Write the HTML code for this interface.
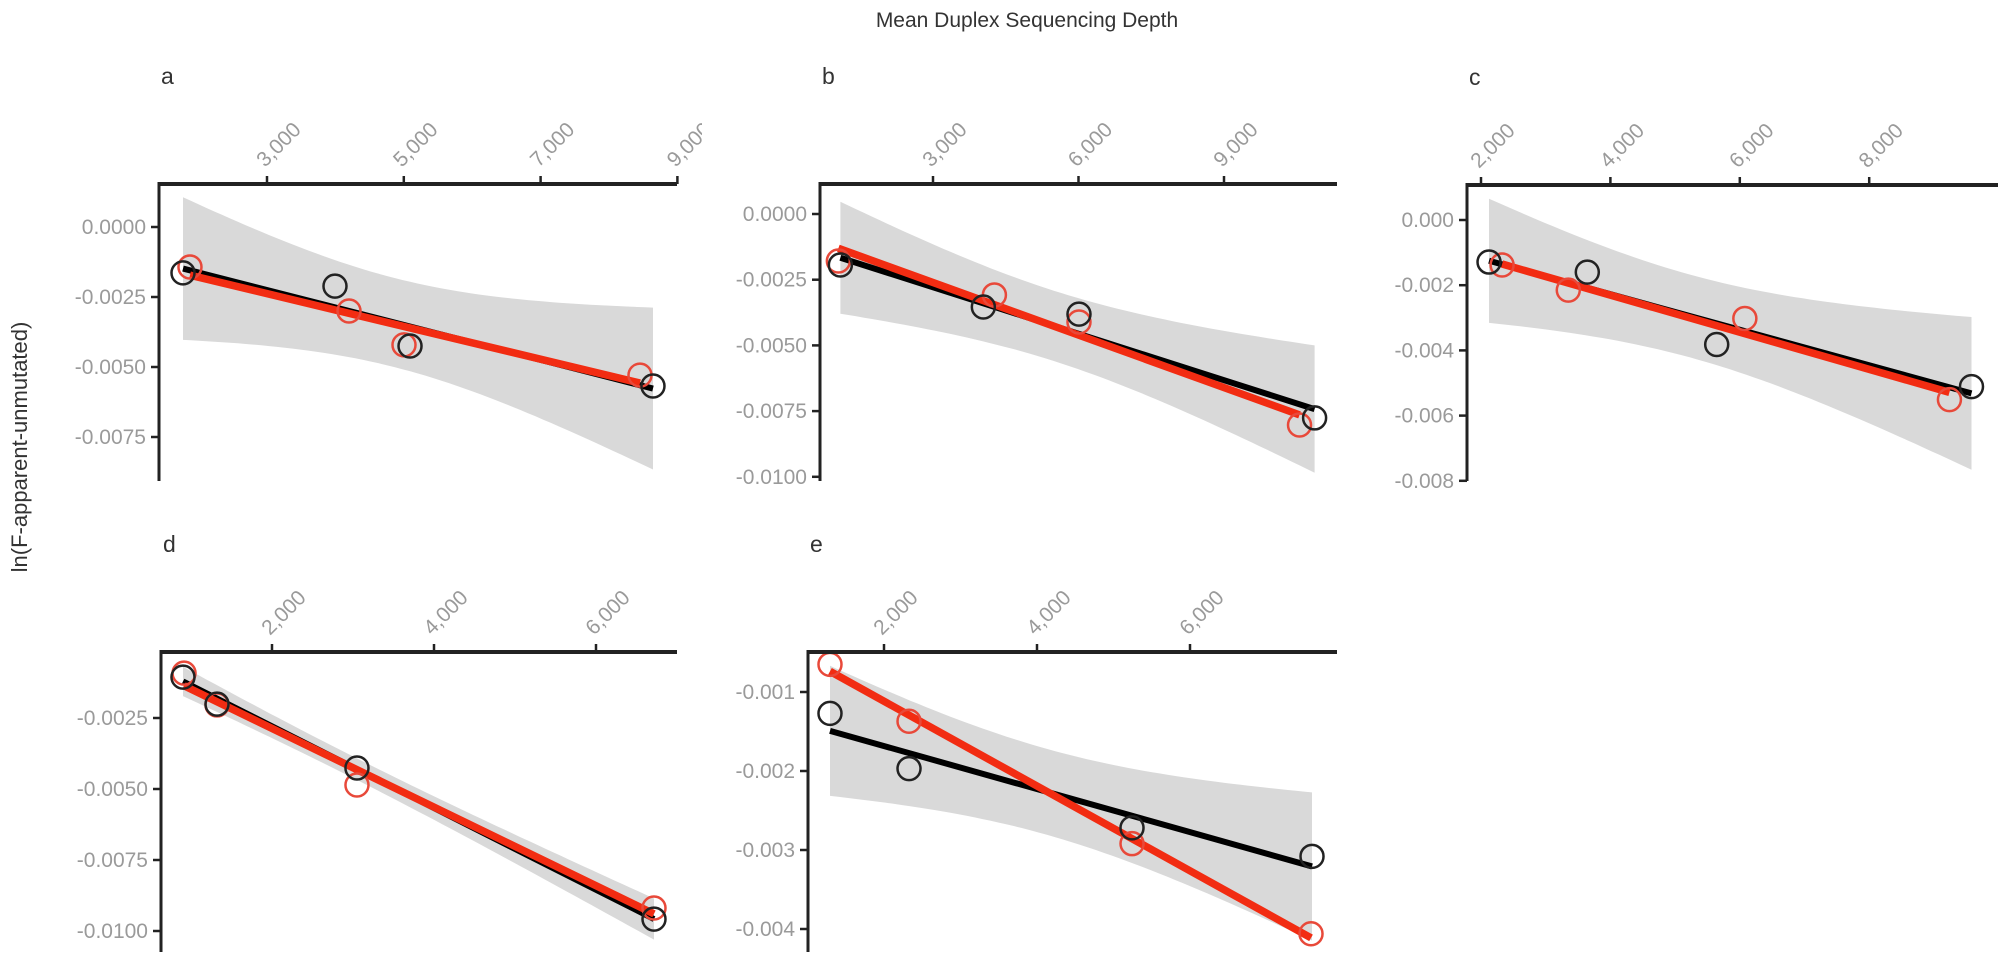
<!DOCTYPE html>
<html><head><meta charset="utf-8">
<style>
html,body{margin:0;padding:0;background:#fff;}
svg{display:block;font-family:"Liberation Sans",Arial,sans-serif;}
.tick{fill:#9a9a9a;font-size:21px;}
</style></head>
<body>
<svg id="chart" width="2000" height="957" viewBox="0 0 2000 957" xmlns="http://www.w3.org/2000/svg">
<text x="1027" y="27" text-anchor="middle" font-size="21" fill="#333">Mean Duplex Sequencing Depth</text>
<text transform="translate(27,447) rotate(-90)" text-anchor="middle" font-size="22" fill="#333">ln(F-apparent-unmutated)</text>
<defs><clipPath id="clipA"><rect x="0" y="0" width="702" height="957"/></clipPath></defs>
</svg>
<script>
// Panel a
const aBlackX = [1772, 3994, 5091, 8643];
const aBlackY = [-0.00164, -0.00211, -0.00425, -0.00568];
const aRedX = [1874, 4199, 5003, 8453];
const aRedY = [-0.00143, -0.00300, -0.00421, -0.00529];
const aXTicks = [3000, 5000, 7000, 9000];
const aYTicks = [0, -0.0025, -0.005, -0.0075];
// Panel b
const bBlackX = [1090, 4038, 6010, 10868];
const bBlackY = [-0.00194, -0.00354, -0.00381, -0.00776];
const bRedX = [1049, 4266, 6010, 10557];
const bRedY = [-0.00179, -0.00308, -0.00411, -0.00803];
const bXTicks = [3000, 6000, 9000];
const bYTicks = [0, -0.0025, -0.005, -0.0075, -0.01];
// Panel c
const cBlackX = [2124, 3643, 5643, 9581];
const cBlackY = [-0.00129, -0.00160, -0.00382, -0.00511];
const cRedX = [2326, 3349, 6078, 9240];
const cRedY = [-0.00138, -0.00215, -0.00302, -0.00551];
const cXTicks = [2000, 4000, 6000, 8000];
const cYTicks = [0, -0.002, -0.004, -0.006, -0.008];
// Panel d
const dBlackX = [901, 1321, 3049, 6716];
const dBlackY = [-0.00106, -0.00201, -0.00426, -0.00958];
const dRedX = [914, 1321, 3049, 6716];
const dRedY = [-0.00092, -0.00204, -0.00486, -0.00919];
const dXTicks = [2000, 4000, 6000];
const dYTicks = [-0.0025, -0.005, -0.0075, -0.01];
// Panel e
const eBlackX = [1294, 2327, 5242, 7595];
const eBlackY = [-0.00127, -0.00197, -0.00272, -0.00308];
const eRedX = [1294, 2327, 5242, 7582];
const eRedY = [-0.00065, -0.00137, -0.00292, -0.00406];
const eXTicks = [2000, 4000, 6000];
const eYTicks = [-0.001, -0.002, -0.003, -0.004];

const NS = "http://www.w3.org/2000/svg";
const svg = document.getElementById('chart');
function mk(tag, attrs, parent){
  const e = document.createElementNS(NS, tag);
  for (const k in attrs) e.setAttribute(k, attrs[k]);
  (parent || svg).appendChild(e);
  return e;
}
function fit(xs, ys){
  const n = xs.length;
  const mx = xs.reduce((a,b)=>a+b,0)/n, my = ys.reduce((a,b)=>a+b,0)/n;
  let sxx=0, sxy=0;
  for (let i=0;i<n;i++){ sxx+=(xs[i]-mx)**2; sxy+=(xs[i]-mx)*(ys[i]-my); }
  const b = sxy/sxx, a = my - b*mx;
  let sse=0;
  for (let i=0;i<n;i++){ sse += (ys[i]-(a+b*xs[i]))**2; }
  const s = Math.sqrt(sse/(n-2));
  return {a, b, mx, sxx, s, n};
}
const TVAL = {2:4.303, 3:3.182, 4:2.776, 5:2.571};

function panel(cfg){
  const g = mk('g', {});
  
  
  if (cfg.clip) g.setAttribute('clip-path', 'url(#' + cfg.clip + ')');
  const X = v => cfg.xRefPx + (v - cfg.xRefVal) * cfg.xScale;
  const Y = v => cfg.y0 - v * cfg.yScale;
  const lab = mk('text', {x: cfg.left + 2, y: cfg.top - 100, 'font-size': 23, fill: '#333'}, g);
  lab.textContent = cfg.id;
  
  
  const f = fit(cfg.bx, cfg.by);
  const t = TVAL[f.n-2] || 2;
  const xmin = Math.min(...cfg.bx), xmax = Math.max(...cfg.bx);
  const up = [], lo = [];
  for (let i=0;i<=60;i++){
    const xv = xmin + (xmax-xmin)*i/60;
    const yv = f.a + f.b*xv;
    const se = f.s*Math.sqrt(1/f.n + (xv-f.mx)**2/f.sxx);
    up.push(X(xv).toFixed(1)+','+Y(yv+t*se).toFixed(1));
    lo.unshift(X(xv).toFixed(1)+','+Y(yv-t*se).toFixed(1));
  }
  const band = mk('polygon', {points: up.concat(lo).join(' '), fill: '#d9d9d9'}, g);
  
  
  function fitLine(xs, ys, color, w, name){
    const ff = fit(xs, ys);
    const x1 = Math.min(...xs), x2 = Math.max(...xs);
    const ln = mk('line', {x1: X(x1), y1: Y(ff.a+ff.b*x1), x2: X(x2), y2: Y(ff.a+ff.b*x2), stroke: color, 'stroke-width': w}, g);
    
    
  }
  fitLine(cfg.bx, cfg.by, '#000', 6, 'black-fit-line-' + cfg.id);
  fitLine(cfg.rx, cfg.ry, '#f22c12', 7.5, 'red-fit-line-' + cfg.id);
  function pts(xs, ys, color, name){
    for (let i=0;i<xs.length;i++){
      const c = mk('circle', {cx: X(xs[i]), cy: Y(ys[i]), r: 11.5, fill: 'none', stroke: color, 'stroke-width': 2.5}, g);
      
      
    }
  }
  pts(cfg.rx, cfg.ry, '#e8493a', 'red-point-' + cfg.id);
  pts(cfg.bx, cfg.by, '#222', 'black-point-' + cfg.id);
  const xa = mk('line', {x1: cfg.left-1.5, y1: cfg.top, x2: cfg.right, y2: cfg.top, stroke: '#222', 'stroke-width': 4}, g);
  
  
  const ya = mk('line', {x1: cfg.left, y1: cfg.top, x2: cfg.left, y2: cfg.bottom, stroke: '#222', 'stroke-width': 3}, g);
  
  
  cfg.xt.forEach(v => {
    const px = X(v);
    mk('line', {x1: px, y1: cfg.top, x2: px, y2: cfg.top-8, stroke: '#222', 'stroke-width': 2.5}, g);
    const tx = mk('text', {class: 'tick', transform: 'translate(' + (px-2) + ',' + (cfg.top-16) + ') rotate(-45)'}, g);
    tx.textContent = v.toLocaleString('en-US');
    
    
  });
  cfg.yt.forEach(v => {
    const py = Y(v);
    mk('line', {x1: cfg.left, y1: py, x2: cfg.left-8, y2: py, stroke: '#222', 'stroke-width': 2.5}, g);
    const ty = mk('text', {class: 'tick', x: cfg.left-13, y: py+7, 'text-anchor': 'end'}, g);
    ty.textContent = v.toFixed(cfg.dec);
    
    
  });
}

panel({id:'a', clip:'clipA', left:159, top:184, right:677, bottom:481,
  xRefVal:3000, xRefPx:267, xScale:0.0684, y0:227, yScale:28000, dec:4,
  bx:aBlackX, by:aBlackY, rx:aRedX, ry:aRedY, xt:aXTicks, yt:aYTicks});
panel({id:'b', left:820, top:184, right:1337, bottom:481,
  xRefVal:3000, xRefPx:933, xScale:0.0485, y0:214, yScale:26280, dec:4,
  bx:bBlackX, by:bBlackY, rx:bRedX, ry:bRedY, xt:bXTicks, yt:bYTicks});
panel({id:'c', left:1467, top:185, right:1998, bottom:481,
  xRefVal:2000, xRefPx:1481, xScale:0.0647, y0:220, yScale:32600, dec:3,
  bx:cBlackX, by:cBlackY, rx:cRedX, ry:cRedY, xt:cXTicks, yt:cYTicks});
panel({id:'d', left:161, top:652, right:677, bottom:952,
  xRefVal:2000, xRefPx:272, xScale:0.081, y0:647, yScale:28400, dec:4,
  bx:dBlackX, by:dBlackY, rx:dRedX, ry:dRedY, xt:dXTicks, yt:dYTicks});
panel({id:'e', left:808, top:652, right:1337, bottom:952,
  xRefVal:2000, xRefPx:884, xScale:0.0765, y0:613, yScale:79000, dec:3,
  bx:eBlackX, by:eBlackY, rx:eRedX, ry:eRedY, xt:eXTicks, yt:eYTicks});
</script>
</body></html>
